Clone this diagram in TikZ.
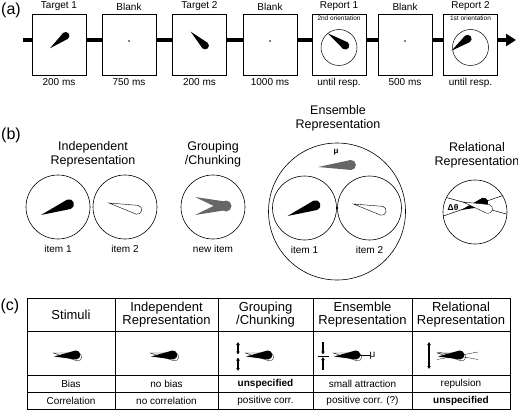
\documentclass[tikz,border=0pt]{standalone}
\usepackage{fontspec}
\setmainfont{Liberation Sans}
\usetikzlibrary{arrows.meta,positioning,calc}

% teardrop stimulus: [look]{tail}{angle}{length}{head radius}
\newcommand{\needle}[5][fill=black]{%
  \begin{scope}[shift={#2}, rotate=#3]
    \path[#1] (0,0) -- (#4,#5) arc[start angle=90, end angle=-90, radius=#5] -- cycle;
  \end{scope}}
% two overlapping stimuli, tail point given
\newcommand{\stimpair}[1]{%
  \needle[fill=white, draw=black, line width=0.3pt]{($#1+(0,-2.5)$)}{-9}{25}{4}
  \needle{($#1+(1,1)$)}{4}{22}{4.5}}

\begin{document}
\begin{tikzpicture}[x=1pt, y=-1pt,
  font=\fontsize{10}{12}\selectfont,
  frame/.style = {draw, fill=white, line width=0.8pt, minimum width=54pt,
                  minimum height=61pt, inner sep=0pt},
  lbl/.style   = {inner sep=1pt, font=\fontsize{10}{12}\selectfont},
  note/.style  = {inner sep=0.5pt, font=\fontsize{6.5}{8}\selectfont},
  dial/.style  = {circle, draw, line width=0.5pt, minimum size=36pt, inner sep=0pt},
  ring/.style  = {circle, draw, line width=0.6pt, minimum size=64pt, inner sep=0pt},
  panel/.style = {inner sep=0pt, font=\fontsize{16}{18}\selectfont},
  hdr/.style   = {align=center, inner sep=0pt, font=\fontsize{12.5}{14}\selectfont},
  thead/.style = {align=center, inner sep=0pt, font=\fontsize{13}{13}\selectfont},
  cell/.style  = {inner sep=0pt, font=\fontsize{10}{12}\selectfont},
  timeline/.style = {line width=3.2pt, -{Triangle[length=10pt, width=12pt]}},
  rule/.style  = {line width=0.8pt},
  dbl/.style   = {line width=1.1pt, {Latex[length=3pt,width=4pt]}-{Latex[length=3pt,width=4pt]}},
  sgl/.style   = {line width=1.1pt, -{Latex[length=3pt,width=4pt]}},
  hair/.style  = {line width=0.3pt}
]
\useasboundingbox (0,0) rectangle (518,417);

%%%%%%%%%%%%%%%%%%%%%%% (a) TRIAL SEQUENCE %%%%%%%%%%%%%%%%%%%%%%%%%%%%%%%%%%%
\begin{scope}
  \node[panel] (pa) at (11,10) {(a)};
  \coordinate (tstart) at (23,40);
  \coordinate (tend)   at (516,40);
  \draw[timeline] (tstart) -- (tend);

  \node[frame] (f1) at ( 59,44.5) {};
  \node[frame] (f2) at (129,44.5) {};
  \node[frame] (f3) at (199.5,44.5) {};
  \node[frame] (f4) at (270,44.5) {};
  \node[frame] (f5) at (339,44.5) {};
  \node[frame] (f6) at (405,44.5) {};
  \node[frame] (f7) at (470.5,44.5) {};

  \node[lbl, above=2pt of f1] {Target 1};  \node[lbl, below=2pt of f1] {200 ms};
  \node[lbl, above=2pt of f2] {Blank};     \node[lbl, below=2pt of f2] {750 ms};
  \node[lbl, above=2pt of f3] {Target 2};  \node[lbl, below=2pt of f3] {200 ms};
  \node[lbl, above=2pt of f4] {Blank};     \node[lbl, below=2pt of f4] {1000 ms};
  \node[lbl, above=2pt of f5] {Report 1};  \node[lbl, below=2pt of f5] {until resp.};
  \node[lbl, above=2pt of f6] {Blank};     \node[lbl, below=2pt of f6] {500 ms};
  \node[lbl, above=2pt of f7] {Report 2};  \node[lbl, below=2pt of f7] {until resp.};

  % fixation dots
  \fill (129,41) circle[radius=0.9];
  \fill (270,41) circle[radius=0.9];
  \fill (405,41) circle[radius=0.9];

  \needle{(50,48.3)}{38.7}{20}{3.8}
  \needle{(190.7,31.7)}{-44}{20}{3.8}

  \node[note, below=1pt of f5.north] {2nd orientation};
  \node[dial] (d5) at (339,47.5) {};
  \needle{(327.7,33.3)}{-34.8}{21.5}{4}
  \node[note, below=1pt of f7.north] {1st orientation};
  \node[dial] (d7) at (470.5,47.5) {};
  \needle{(451.5,50.7)}{36.5}{20}{4}
\end{scope}

%%%%%%%%%%%%%%%%%%%%%%% (b) REPRESENTATIONS %%%%%%%%%%%%%%%%%%%%%%%%%%%%%%%%%%
\begin{scope}
  \node[panel] (pb) at (11,135) {(b)};

  % independent
  \node[hdr] (hind) at (93,154) {Independent\\Representation};
  \node[ring] (i1) at (58,207) {};
  \node[ring] (i2) at (125,207) {};
  \needle{($(i1)+(-17,8)$)}{21}{30}{5}
  \needle[fill=white, draw=black, line width=0.4pt]{($(i2)+(-16,-4)$)}{-13.5}{29}{4.5}
  \node[lbl, below=5pt of i1] {item 1};
  \node[lbl, below=5pt of i2] {item 2};

  % grouping
  \node[hdr] (hgrp) at (213,154) {Grouping\\/Chunking};
  \node[ring] (g1) at (213,207) {};
  \needle[fill=black!60]{(195,197)}{-17}{30}{4.5}
  \needle[fill=black!60]{(195,215)}{17.5}{30}{4.5}
  \fill[black!60] (226,206) circle[radius=5.5];
  \node[lbl, below=5pt of g1] {new item};

  % ensemble
  \node[hdr] (hens) at (338,118.5) {Ensemble\\Representation};
  \node[circle, draw, line width=0.6pt, minimum size=137pt, inner sep=0pt] (ens) at (337,211.5) {};
  \node[ring] (e1) at (304.5,208) {};
  \node[ring] (e2) at (369.5,208) {};
  \node[inner sep=0pt, font=\fontsize{8}{9}\selectfont\bfseries] (mu1) at (336,152) {μ};
  \needle[fill=black!60]{(318,167)}{3.5}{33}{5}
  \needle{($(e1)+(-17,8)$)}{21}{30}{5}
  \needle[fill=white, draw=black, line width=0.4pt]{($(e2)+(-16,-4)$)}{-13.5}{29}{4.5}
  \node[lbl, below=5pt of e1] {item 1};
  \node[lbl, below=5pt of e2] {item 2};

  % relational
  \node[hdr] (hrel) at (477,155) {Relational\\Representation};
  \node[ring] (r1) at (475,212) {};
  \begin{scope}
    \clip (475,212) circle[radius=32];
    \draw[line width=0.5pt] (430,193) -- (546,225);
    \draw[line width=0.5pt] (427,221.6) -- (541,182.4);
  \end{scope}
  \needle{(461,210)}{19}{24}{4.5}
  \needle[fill=white, draw=black, line width=0.4pt]{(463,202)}{-15.5}{26}{4.5}
  \node[inner sep=0pt, font=\fontsize{8.5}{9}\selectfont\bfseries] (dth) at (453,207.5) {Δθ};
\end{scope}

%%%%%%%%%%%%%%%%%%%%%%% (c) PREDICTIONS TABLE %%%%%%%%%%%%%%%%%%%%%%%%%%%%%%%%
\begin{scope}
  \node[panel] (pc) at (10,306) {(c)};
  \draw[rule] (27,298) rectangle (510,409);
  \foreach \y in {331,375,392} \draw[rule] (27,\y) -- (510,\y);
  \foreach \x in {115,218,313,412} \draw[rule] (\x,298) -- (\x,409);

  \node[thead] (c1) at (71,314.5)    {Stimuli};
  \node[thead] (c2) at (166.5,314.5) {Independent\\Representation};
  \node[thead] (c3) at (265.5,314.5) {Grouping\\/Chunking};
  \node[thead] (c4) at (362.5,314.5) {Ensemble\\Representation};
  \node[thead] (c5) at (461,314.5)   {Relational\\Representation};

  % stimuli row
  \stimpair{(53,355.5)}
  \stimpair{(150,355.5)}

  \coordinate (gu1) at (238,342);  \coordinate (gu2) at (238,354.5);
  \coordinate (gd1) at (238,357.5);\coordinate (gd2) at (238,371);
  \draw[dbl] (gu1) -- (gu2);
  \draw[dbl] (gd1) -- (gd2);
  \stimpair{(245,355.5)}

  \coordinate (eu1) at (323,342);  \coordinate (eu2) at (323,354.5);
  \coordinate (ed1) at (323,370);  \coordinate (ed2) at (323,357);
  \coordinate (el1) at (318,355.7);\coordinate (el2) at (329,355.7);
  \draw[sgl] (eu1) -- (eu2);
  \draw[sgl] (ed1) -- (ed2);
  \draw[hair] (el1) -- (el2);
  \stimpair{(333,355.5)}
  \node[cell, anchor=west] (mu2) at (369.5,355.5) {μ};
  \coordinate (etip) at (359,355.5);
  \draw[hair] (etip) -- (mu2.west);

  \coordinate (ra1) at (429,342);  \coordinate (ra2) at (429,369);
  \draw[dbl] (ra1) -- (ra2);
  \stimpair{(437,355.5)}
  \draw[hair] (437,352) -- (478,359.5);
  \draw[hair] (437,359.5) -- (478,352);

  % bias row
  \node[cell] (b1) at (71,383.5)    {Bias};
  \node[cell] (b2) at (166.5,383.5) {no bias};
  \node[cell, font=\fontsize{10}{12}\selectfont\bfseries] (b3) at (265.5,383.5) {unspecified};
  \node[cell] (b4) at (362.5,383.5) {small attraction};
  \node[cell] (b5) at (461,383.5)   {repulsion};

  % correlation row
  \node[cell] (r1c) at (71,400.5)    {Correlation};
  \node[cell] (r2c) at (166.5,400.5) {no correlation};
  \node[cell] (r3c) at (265.5,400.5) {positive corr.};
  \node[cell] (r4c) at (362.5,400.5) {positive corr. (?)};
  \node[cell, font=\fontsize{10}{12}\selectfont\bfseries] (r5c) at (461,400.5) {unspecified};
\end{scope}

\end{tikzpicture}
\end{document}
